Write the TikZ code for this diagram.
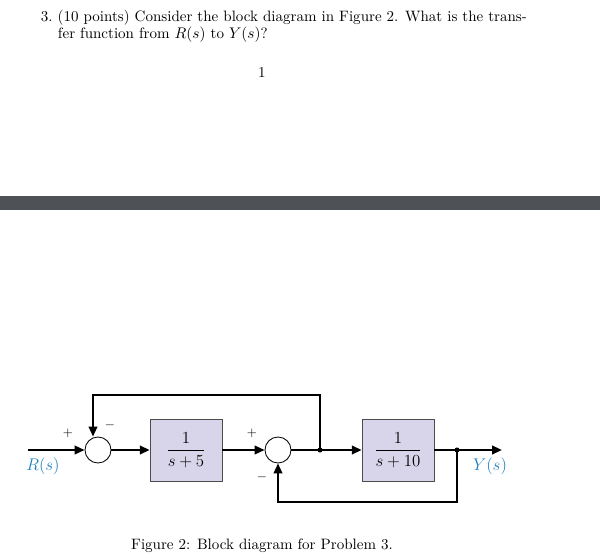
\documentclass[tikz,border=0pt]{standalone}
\usepackage{xcolor}
\usepackage{amsmath}
\usetikzlibrary{positioning, arrows.meta, calc}
\definecolor{blockfill}{HTML}{D8D4EA}
\definecolor{sigblue}{HTML}{1E7FC0}
\definecolor{barcolor}{HTML}{4E5256}
\begin{document}
\begin{tikzpicture}[x=0.025cm, y=-0.025cm,
    % Node styles
    sumnode/.style={
        circle, draw=black, fill=white, line width=0.6pt,
        minimum size=0.65cm, inner sep=0pt
    },
    blocknode/.style={
        rectangle, draw=black!70, fill=blockfill, line width=0.4pt,
        minimum width=1.8cm, minimum height=1.55cm, font=\large
    },
    % Edge styles
    sigedge/.style={
        -{Triangle[length=7pt,width=6pt]}, line width=1.6pt
    },
    sigline/.style={
        line width=1.6pt
    },
    % Label styles
    signlbl/.style={font=\small},
    siglbl/.style={font=\large, text=sigblue},
    qtext/.style={anchor=west, font=\fontsize{10.7}{13}\selectfont}
]
\useasboundingbox (0,0) rectangle (600,558);

% ============ QUESTION ============
\node[qtext] (q1) at (36,18) {3.\ (10 points) Consider the block diagram in Figure 2. What is the trans-};
\node[qtext] (q2) at (53,35) {fer function from $R(s)$ to $Y(s)$?};
\node[font=\fontsize{10.7}{13}\selectfont] (pg) at (262,72) {1};

% ============ PAGE BAR ============
\fill[barcolor] (0,196) rectangle (600,210);

% ============ BLOCKS ============
\node[sumnode] (sum1) at (98,450) {};
\node[blocknode] (g1) at (186,450) {$\dfrac{1}{s+5}$};
\node[sumnode] (sum2) at (278,450) {};
\node[blocknode] (g2) at (398,450) {$\dfrac{1}{s+10}$};

\coordinate (in) at (28,450);
\coordinate (br1) at (320,450);
\coordinate (br2) at (457,450);
\coordinate (out) at (502,450);

% ============ EDGES ============
\draw[sigedge] (in) -- (sum1.west);
\draw[sigedge] (sum1.east) -- (g1.west);
\draw[sigedge] (g1.east) -- (sum2.west);
\draw[sigline] (sum2.east) -- (br1);
\draw[sigedge] (br1) -- (g2.west);
\draw[sigedge] (g2.east) -- (out);
\draw[sigedge] (br1) |- (93,395) -- (sum1.north -| 93,0);
\draw[sigedge] (br2) |- (278,502) -- (sum2.south);
\fill (br1) circle (1.8pt);
\fill (br2) circle (1.8pt);

% ============ LABELS ============
\node[signlbl] (p1) at (68,433) {$+$};
\node[signlbl] (m1) at (110,425) {$-$};
\node[signlbl] (p2) at (252,433) {$+$};
\node[signlbl] (m2) at (262,477) {$-$};
\node[siglbl] (rs) at (43,466) {$R(s)$};
\node[siglbl] (ys) at (490,466) {$Y(s)$};

\node[font=\fontsize{10.7}{13}\selectfont] (cap) at (262,546) {Figure 2: Block diagram for Problem 3.};
\end{tikzpicture}
\end{document}
